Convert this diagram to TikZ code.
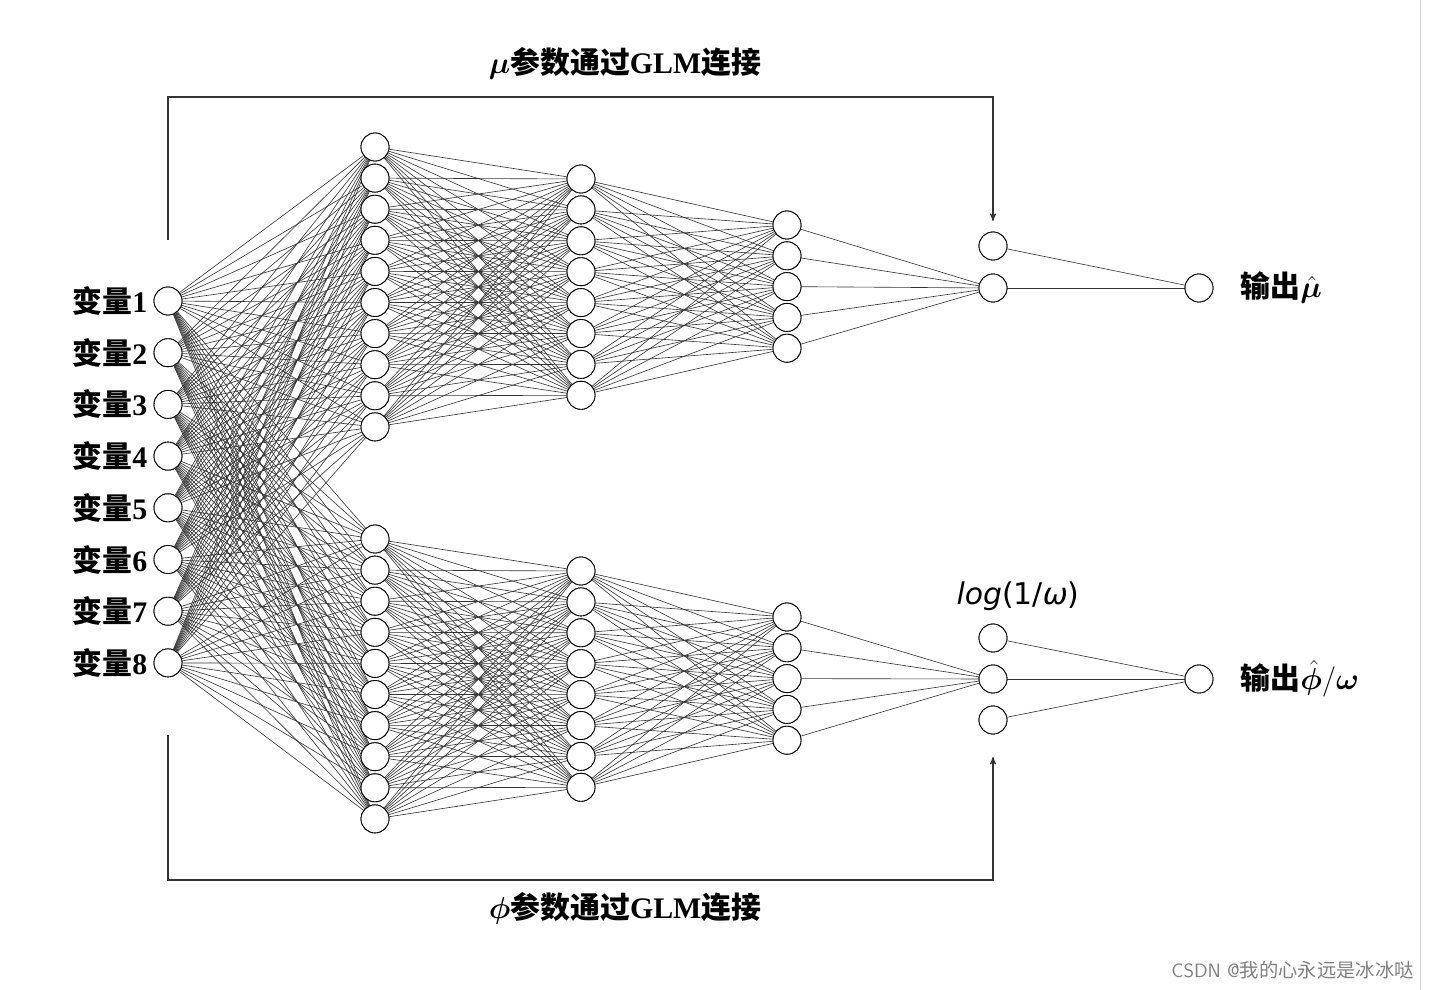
\documentclass[tikz,border=0pt]{standalone}
\usepackage{fontspec}
\setmainfont{Liberation Serif}
\newfontfamily\cjk{Noto Sans CJK SC}
\newfontfamily\sanslab{DejaVu Sans}
\usepackage{amsmath,bm}
\usetikzlibrary{calc}
\usetikzlibrary{arrows}
\tikzstyle{neurone}=[circle, draw, fill=white, minimum size=0.56cm, inner sep=0pt, line width=0.5pt]
\tikzstyle{lien}   =[gray!40!black, line width=0.35pt]
\tikzstyle{glm}    =[gray!40!black, line width=0.6pt]
\tikzstyle{etiq}   =[font=\bfseries\fontsize{17}{20}\selectfont]

\begin{document}
\begin{tikzpicture}[x=0.02cm,y=-0.02cm]
\useasboundingbox (0,0) rectangle (1434,990);

%%%%%%%%%%%%%%%%%%%%%%%%
%Définition des couches
%%%%%%%%%%%%%%%%%%%%%%%%
\def \xa {168}; \def \xb {375}; \def \xc {581}; \def \xd {787}; \def \xe {993}; \def \xf {1199};

%couche d'entrée
\foreach \i in {1,...,8}
  \node[neurone] (e\i) at (\xa,{301+(\i-1)*51.7}) {};

%réseau du haut (mu) et du bas (phi)
\foreach \r/\d in {h/0,b/392}{
  \foreach \i in {1,...,10} \node[neurone] (\r1\i) at (\xb,{147+\d+(\i-1)*31.1}) {};
  \foreach \i in {1,...,8}  \node[neurone] (\r2\i) at (\xc,{179+\d+(\i-1)*30.9}) {};
  \foreach \i in {1,...,5}  \node[neurone] (\r3\i) at (\xd,{225+\d+(\i-1)*30.8}) {};
}
\node[neurone] (h41) at (\xe,246) {};
\node[neurone] (h42) at (\xe,288) {};
\foreach \i in {1,2,3} \node[neurone] (b4\i) at (\xe,{638+(\i-1)*41}) {};
\node[neurone] (hs) at (\xf,288) {};
\node[neurone] (bs) at (\xf,679) {};

%%%%%%%%%%%%%%%%%%%%%%%%
%Liaisons
%%%%%%%%%%%%%%%%%%%%%%%%
\foreach \r in {h,b}{
  \foreach \i in {1,...,8} \foreach \j in {1,...,10} \draw[lien] (e\i) -- (\r1\j);
  \foreach \i in {1,...,10} \foreach \j in {1,...,8} \draw[lien] (\r1\i) -- (\r2\j);
  \foreach \i in {1,...,8} \foreach \j in {1,...,5} \draw[lien] (\r2\i) -- (\r3\j);
}
\foreach \i in {1,...,5} \draw[lien] (h3\i) -- (h42);
\foreach \i in {1,...,5} \draw[lien] (b3\i) -- (b42);
\foreach \i in {1,2} \draw[lien] (h4\i) -- (hs);
\foreach \i in {1,2,3} \draw[lien] (b4\i) -- (bs);

%on redessine les neurones par-dessus
\foreach \i in {1,...,8} \node[neurone] at (e\i) {};
\foreach \r in {h,b}{
  \foreach \i in {1,...,10} \node[neurone] at (\r1\i) {};
  \foreach \i in {1,...,8} \node[neurone] at (\r2\i) {};
  \foreach \i in {1,...,5} \node[neurone] at (\r3\i) {};
}
\foreach \i in {1,2} \node[neurone] at (h4\i) {};
\foreach \i in {1,2,3} \node[neurone] at (b4\i) {};
\node[neurone] at (hs) {};
\node[neurone] at (bs) {};

%%%%%%%%%%%%%%%%%%%%%%%%
%Étiquettes
%%%%%%%%%%%%%%%%%%%%%%%%
\foreach \i in {1,...,8}
  \node[etiq, left=0pt] (le\i) at (e\i.west) {{\cjk\bfseries 变量}\i};
\node[etiq, right=12pt] (lhs) at (hs.east) {{\cjk\bfseries 输出}$\hat{\bm{\mu}}$};
\node[etiq, right=12pt] (lbs) at (bs.east) {{\cjk\bfseries 输出}$\hat{\bm{\phi}}/\bm{\omega}$};
\node[font=\sanslab\fontsize{17}{20}\selectfont] (llog) at (1018,596) {\textit{log}(1/\textit{ω})};

%connexions GLM
\coordinate (g1) at (\xa,240); \coordinate (g2) at (\xe,221);
\coordinate (g3) at (\xa,735); \coordinate (g4) at (\xe,757);
\draw[glm,->,>=stealth'] (g1) |- (\xe,97) -- (g2);
\draw[glm,->,>=stealth'] (g3) |- (\xe,880) -- (g4);
\node[etiq] (tmu) at (625,63) {$\bm{\mu}${\cjk\bfseries 参数通过}GLM{\cjk\bfseries 连接}};
\node[etiq] (tphi) at (625,908) {$\bm{\phi}${\cjk\bfseries 参数通过}GLM{\cjk\bfseries 连接}};

%bord et filigrane
\draw[gray!40] (1420,0) -- (1420,990);
\node[gray, anchor=east, font=\sffamily\fontsize{11}{12}\selectfont] (wm) at (1420,970) {CSDN @{\cjk 我的心永远是冰冰哒}};
\end{tikzpicture}
\end{document}
